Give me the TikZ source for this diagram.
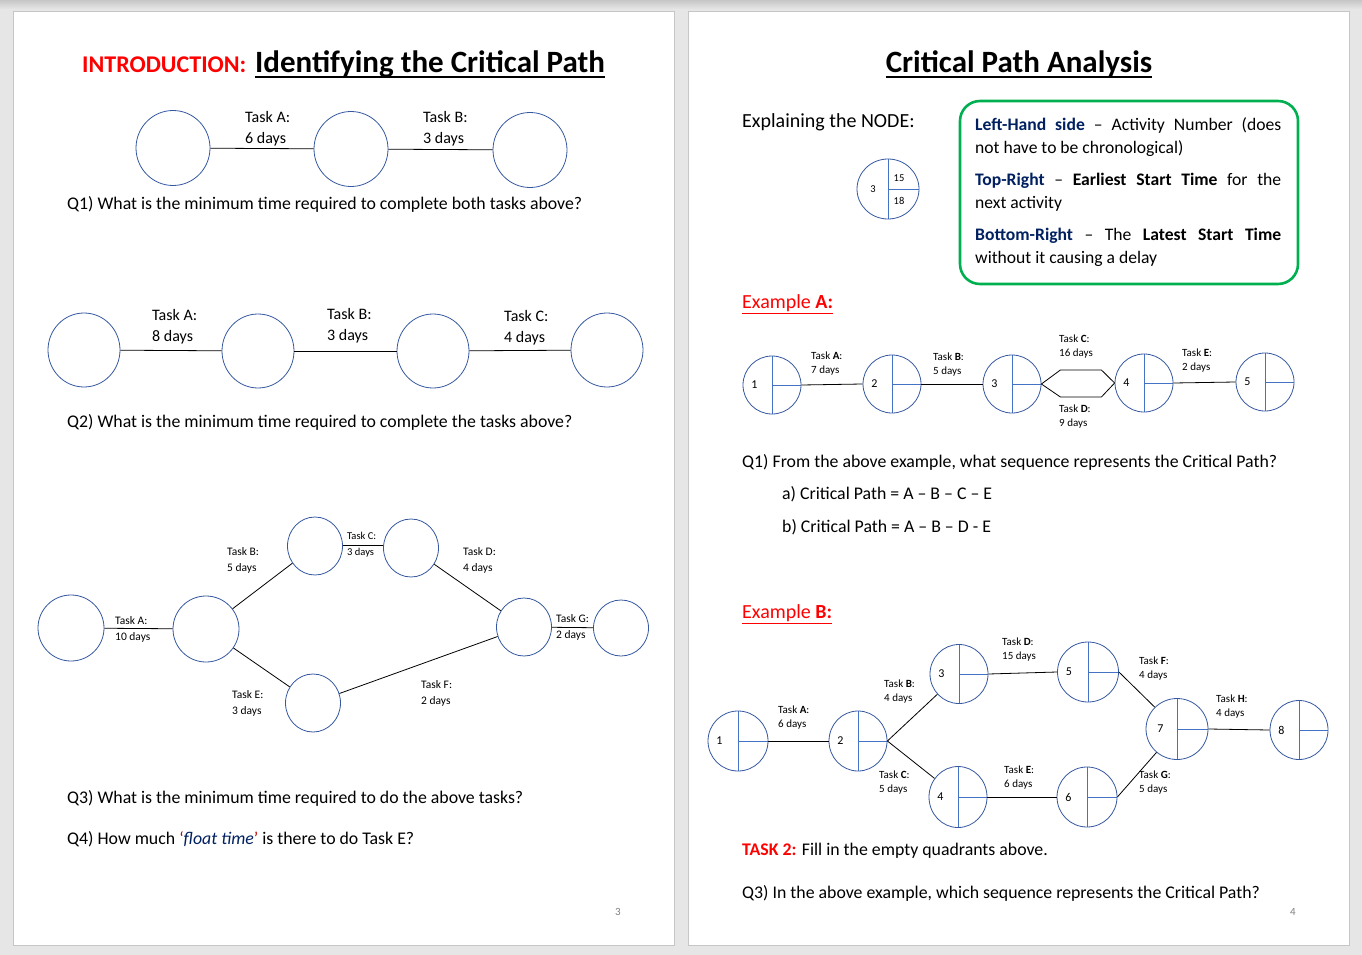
\documentclass[tikz,border=0pt]{standalone}
\usepackage{fontspec}
\setmainfont{Carlito}
\usetikzlibrary{positioning,shapes.geometric,calc}
\definecolor{circblue}{RGB}{54,88,160}
\definecolor{quadblue}{RGB}{68,114,196}
\definecolor{darkblue}{RGB}{0,32,96}
\definecolor{boxgreen}{RGB}{0,176,80}
\definecolor{pagegrey}{RGB}{230,230,230}
\definecolor{edgegrey}{RGB}{198,198,198}
\definecolor{numgrey}{RGB}{128,128,128}
\tikzset{
  page/.style={draw=edgegrey, fill=white, line width=0.8pt},
  event/.style={draw=circblue, ellipse, line width=0.8pt, inner sep=0pt},
  bigevent/.style={event, minimum width=74pt, minimum height=75pt},
  midevent/.style={event, minimum width=66pt, minimum height=66pt},
  smallevent/.style={event, minimum width=55pt, minimum height=58pt},
  quadnode/.style={event, minimum width=58pt, minimum height=58pt,
    path picture={\draw[quadblue, line width=1pt]
      (path picture bounding box.north) -- (path picture bounding box.south)
      (path picture bounding box.center) -- (path picture bounding box.east);}},
  activity/.style={draw=black, line width=0.8pt},
  numtext/.style={font=\fontsize{12}{14}\selectfont, inner sep=0pt},
  tasklbl/.style={align=left, anchor=west, inner sep=0pt, font=\fontsize{16}{21}\selectfont},
  smalllbl/.style={align=left, anchor=west, inner sep=0pt, font=\fontsize{11.5}{16}\selectfont},
  tinylbl/.style={align=left, anchor=west, inner sep=0pt, font=\fontsize{11}{14}\selectfont},
  bodytext/.style={anchor=west, inner sep=0pt, font=\fontsize{17.8}{21}\selectfont},
  headtext/.style={anchor=west, inner sep=0pt, font=\fontsize{20}{24}\selectfont},
  boxtext/.style={anchor=north west, inner sep=0pt, text width=306pt, align=justify, font=\fontsize{17.6}{23}\selectfont}
}

\begin{document}
\begin{tikzpicture}[x=1pt, y=-1pt]
  \useasboundingbox (0,0) rectangle (1362,955);
  % background and the two pages
  \fill[pagegrey] (0,0) rectangle (1362,955);
  \shade[top color=edgegrey, bottom color=pagegrey] (0,0) rectangle (1362,9);
  \draw[page] (13,11) rectangle (674,945);
  \draw[page] (688,11) rectangle (1349,945);

  % ---------- page 3 ----------
  \node[inner sep=0pt, anchor=base west, text=red, font=\fontsize{24}{28}\selectfont\bfseries] (intro) at (82,73) {INTRODUCTION:};
  \node[inner sep=0pt, anchor=base west, font=\fontsize{31}{36}\selectfont\bfseries] (titleL) at (255,73) {Identifying the Critical Path};
  \draw[line width=1.6pt] ([yshift=-4pt]titleL.base west) -- ([yshift=-4pt]titleL.base east);

  % two tasks
  \node[bigevent] (p1a) at (173,148) {};
  \node[bigevent] (p1b) at (351,149) {};
  \node[bigevent] (p1c) at (530,150) {};
  \draw[activity] (p1a) -- (p1b);
  \draw[activity] (p1b) -- (p1c);
  \node[tasklbl] (p1lA) at (245,129) {Task A:\\6 days};
  \node[tasklbl] (p1lB) at (423,129) {Task B:\\3 days};
  \node[bodytext] (q1) at (67,204) {Q1) What is the minimum time required to complete both tasks above?};

  % three tasks
  \node[bigevent, minimum width=72pt, minimum height=74pt] (p2a) at (84,350) {};
  \node[bigevent, minimum width=72pt, minimum height=74pt] (p2b) at (258,351) {};
  \node[bigevent, minimum width=72pt, minimum height=74pt] (p2c) at (433,351) {};
  \node[bigevent, minimum width=72pt, minimum height=74pt] (p2d) at (607,350) {};
  \draw[activity] (p2a) -- (p2b);
  \draw[activity] (p2b) -- (p2c);
  \draw[activity] (p2c) -- (p2d);
  \node[tasklbl] (p2lA) at (152,327) {Task A:\\8 days};
  \node[tasklbl] (p2lB) at (327,326) {Task B:\\3 days};
  \node[tasklbl] (p2lC) at (504,328) {Task C:\\4 days};
  \node[bodytext] (q2) at (67,422) {Q2) What is the minimum time required to complete the tasks above?};

  % network with two branches
  \node[midevent] (p3a) at (71,628) {};
  \node[midevent] (p3b) at (206,629) {};
  \node[smallevent] (p3c) at (315,546) {};
  \node[smallevent] (p3d) at (411,548) {};
  \node[smallevent] (p3e) at (313,703) {};
  \node[smallevent] (p3f) at (524,627) {};
  \node[smallevent, minimum height=56pt] (p3g) at (621,628) {};
  \draw[activity] (p3a) -- (p3b);
  \draw[activity] (p3b) -- (p3c);
  \draw[activity] ([yshift=1pt]p3c.east) -- ([yshift=3pt]p3d.west);
  \draw[activity] (p3d) -- (p3f);
  \draw[activity] (p3b) -- (p3e);
  \draw[activity] (p3e) -- (p3f);
  \draw[activity] (p3f) -- (p3g);
  \node[smalllbl] (p3lA) at (115,629) {Task A:\\10 days};
  \node[smalllbl] (p3lB) at (227,560) {Task B:\\5 days};
  \node[smalllbl, font=\fontsize{10.5}{16}\selectfont] (p3lC) at (347,545) {Task C:\\3 days};
  \node[smalllbl] (p3lD) at (463,560) {Task D:\\4 days};
  \node[smalllbl] (p3lE) at (232,703) {Task E:\\3 days};
  \node[smalllbl] (p3lF) at (421,693) {Task F:\\2 days};
  \node[smalllbl] (p3lG) at (556,627) {Task G:\\2 days};
  \node[bodytext] (q3) at (67,798) {Q3) What is the minimum time required to do the above tasks?};
  \node[bodytext] (q4) at (67,839) {Q4) How much \textcolor{red!75!black}{‘}\textcolor{darkblue}{\itshape float time}\textcolor{red!75!black}{’} is there to do Task E?};
  \node[inner sep=0pt, text=numgrey, font=\fontsize{11}{13}\selectfont] (pg3) at (618,912) {3};

  % ---------- page 4 ----------
  \node[inner sep=0pt, anchor=base, font=\fontsize{31}{36}\selectfont\bfseries] (titleR) at (1019,73) {Critical Path Analysis};
  \draw[line width=1.6pt] ([yshift=-4pt]titleR.base west) -- ([yshift=-4pt]titleR.base east);
  \node[headtext] (explain) at (742,122) {Explaining the NODE:};

  % the node key
  \node[event, minimum width=62pt, minimum height=60pt,
    path picture={\draw[quadblue, line width=1pt]
      (path picture bounding box.north) -- (path picture bounding box.south)
      (path picture bounding box.center) -- (path picture bounding box.east);}] (keynode) at (888,189) {};
  \node[inner sep=0pt, font=\fontsize{10.5}{12}\selectfont] (keyact) at ([xshift=-15pt]keynode.center) {3};
  \node[inner sep=0pt, font=\fontsize{10.5}{12}\selectfont] (keyest) at ([xshift=11pt, yshift=11pt]keynode.center) {15};
  \node[inner sep=0pt, font=\fontsize{10.5}{12}\selectfont] (keylst) at ([xshift=11pt, yshift=-12pt]keynode.center) {18};

  \draw[boxgreen, line width=2.6pt, rounded corners=20pt] (960,101) rectangle (1298,284);
  \node[boxtext] (keyL) at (975,117) {\textcolor{darkblue}{\bfseries Left-Hand side} – Activity Number (does\linebreak not have to be chronological)};
  \node[boxtext] (keyTR) at (975,173) {\textcolor{darkblue}{\bfseries Top-Right} – \textbf{Earliest Start Time} for the\linebreak next activity};
  \node[boxtext] (keyBR) at (975,228) {\textcolor{darkblue}{\bfseries Bottom-Right} – The \textbf{Latest Start Time}\linebreak without it causing a delay};

  % example A
  \node[headtext, text=red] (exA) at (742,304) {\underline{Example \textbf{A:}}};
  \node[quadnode, label={[numtext, label distance=-15pt]180:1}] (a1) at (772,385) {};
  \node[quadnode, label={[numtext, label distance=-15pt]180:2}] (a2) at (892,384) {};
  \node[quadnode, label={[numtext, label distance=-15pt]180:3}] (a3) at (1012,384) {};
  \node[quadnode, label={[numtext, label distance=-15pt]180:4}] (a4) at (1144,383) {};
  \node[quadnode, label={[numtext, label distance=-15pt]180:5}] (a5) at (1265,382) {};
  \draw[activity] (a1.east) -- (a2.west);
  \draw[activity] (a2.east) -- (a3.west);
  \draw[activity] (a3.east) -- ++(19,-14) -- ++(41,0) -- (a4.west);
  \draw[activity] (a3.east) -- ++(19,13) -- ++(41,0) -- (a4.west);
  \draw[activity] (a4.east) -- (a5.west);
  \node[tinylbl] (alA) at (811,364) {Task \textbf{A}:\\7 days};
  \node[tinylbl] (alB) at (933,365) {Task \textbf{B}:\\5 days};
  \node[tinylbl] (alC) at (1059,347) {Task \textbf{C}:\\16 days};
  \node[tinylbl] (alD) at (1059,417) {Task \textbf{D}:\\9 days};
  \node[tinylbl] (alE) at (1182,361) {Task \textbf{E}:\\2 days};

  \node[bodytext] (q1r) at (742,462) {Q1) From the above example, what sequence represents the Critical Path?};
  \node[bodytext] (ansa) at (782,494) {a) Critical Path = A – B – C – E};
  \node[bodytext] (ansb) at (782,527) {b) Critical Path = A – B – D - E};

  % example B
  \node[headtext, text=red] (exB) at (742,614) {\underline{Example \textbf{B:}}};
  \node[quadnode, minimum width=60pt, minimum height=60pt, label={[numtext, label distance=-15pt]180:1}] (b1) at (738,741) {};
  \node[quadnode, minimum width=58pt, minimum height=60pt, label={[numtext, label distance=-15pt]180:2}] (b2) at (858,741) {};
  \node[quadnode, minimum width=58pt, minimum height=59pt, label={[numtext, label distance=-15pt]180:3}] (b3) at (959,674) {};
  \node[quadnode, minimum width=58pt, minimum height=61pt, label={[numtext, label distance=-15pt]180:4}] (b4) at (958,797) {};
  \node[quadnode, minimum width=61pt, minimum height=60pt, label={[numtext, label distance=-15pt]180:5}] (b5) at (1088,672) {};
  \node[quadnode, minimum width=60pt, minimum height=60pt, label={[numtext, label distance=-15pt]180:6}] (b6) at (1087,797) {};
  \node[quadnode, minimum width=62pt, minimum height=61pt, label={[numtext, label distance=-18pt]180:7}] (b7) at (1177,729) {};
  \node[quadnode, minimum width=58pt, minimum height=59pt, label={[numtext, label distance=-15pt]180:8}] (b8) at (1299,730) {};
  \draw[activity] (b1.east) -- (b2.west);
  \draw[activity] (b2.east) -- (b3);
  \draw[activity] (b2.east) -- (b4);
  \draw[activity] (b3.east) -- (b5.west);
  \draw[activity] (b4.east) -- (b6.west);
  \draw[activity] (b5.east) -- (b7);
  \draw[activity] (b6.east) -- (b7);
  \draw[activity] (b7.east) -- (b8.west);
  \node[tinylbl] (blA) at (778,718) {Task \textbf{A}:\\6 days};
  \node[tinylbl] (blB) at (884,692) {Task \textbf{B}:\\4 days};
  \node[tinylbl] (blC) at (879,783) {Task \textbf{C}:\\5 days};
  \node[tinylbl] (blD) at (1002,650) {Task \textbf{D}:\\15 days};
  \node[tinylbl] (blE) at (1004,778) {Task \textbf{E}:\\6 days};
  \node[tinylbl] (blF) at (1139,669) {Task \textbf{F}:\\4 days};
  \node[tinylbl] (blG) at (1139,783) {Task \textbf{G}:\\5 days};
  \node[tinylbl] (blH) at (1216,707) {Task \textbf{H}:\\4 days};

  \node[bodytext] (task2) at (742,851) {\textcolor{red}{\bfseries TASK 2:} Fill in the empty quadrants above.};
  \node[bodytext] (q3r) at (742,893) {Q3) In the above example, which sequence represents the Critical Path?};
  \node[inner sep=0pt, text=numgrey, font=\fontsize{11}{13}\selectfont] (pg4) at (1293,912) {4};
\end{tikzpicture}
\end{document}
